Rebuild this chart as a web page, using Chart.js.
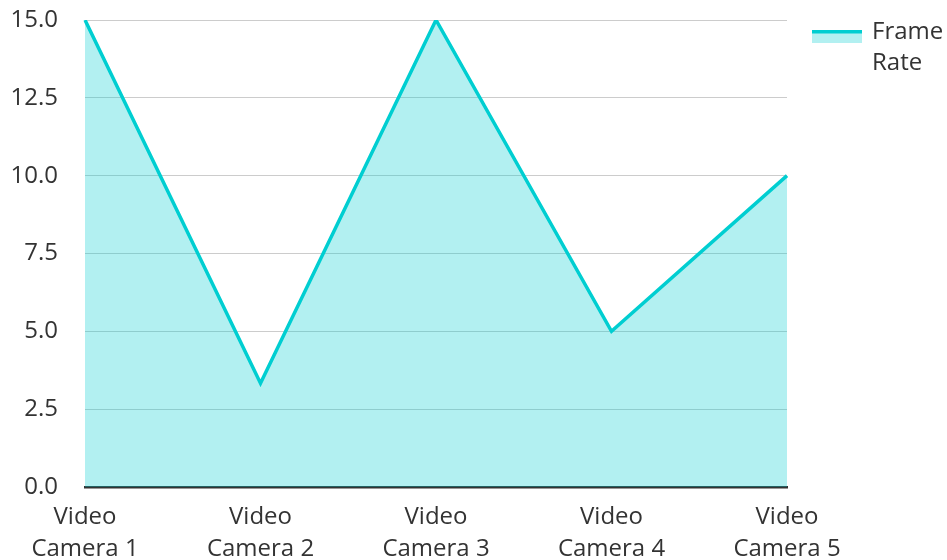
<!DOCTYPE html>
<html>
<head>
<meta charset="utf-8">
<script src="https://cdn.jsdelivr.net/npm/chart.js@4/dist/chart.umd.min.js"></script>
<style>
  html, body { margin: 0; padding: 0; background: #fff; }
  #wrap { width: 947px; height: 560px; position: relative; }
  canvas { display: block; }
</style>
</head>
<body>
<div id="wrap"><canvas id="graph" width="947" height="560"></canvas></div>
<script>
const cameras = [['Video', 'Camera 1'], ['Video', 'Camera 2'], ['Video', 'Camera 3'], ['Video', 'Camera 4'], ['Video', 'Camera 5']];
const frameRate = [15, 3.33, 15, 5, 10];
const seriesName = ['Frame', 'Rate'];

const lineColor = 'rgb(0, 206, 209)';
const fillColor = 'rgba(0, 206, 209, 0.3)';
const textColor = '#333';
const fontFamily = '"Open Sans", "Noto Sans", sans-serif';

// legend drawn by hand so the name can wrap on two lines
const sideLegend = {
  id: 'sideLegend',
  afterDraw(c) {
    const ctx = c.ctx;
    const x = 812, y = 30;
    ctx.save();
    ctx.fillStyle = fillColor;
    ctx.fillRect(x, y, 50, 13);
    ctx.fillStyle = lineColor;
    ctx.fillRect(x, y, 50, 3.5);
    ctx.fillStyle = textColor;
    ctx.font = '24px ' + fontFamily;
    ctx.textBaseline = 'middle';
    seriesName.forEach((t, i) => ctx.fillText(t, 872, 32 + i * 31));
    ctx.restore();
  }
};

const ctx = document.getElementById('graph').getContext('2d');
const chart = new Chart(ctx, {
  type: 'line',
  data: {
    labels: cameras,
    datasets: [{
      label: seriesName.join(' '),
      data: frameRate,
      borderColor: lineColor,
      backgroundColor: fillColor,
      borderWidth: 3.5,
      fill: 'origin',
      pointRadius: 0,
      tension: 0
    }]
  },
  options: {
    responsive: false,
    maintainAspectRatio: false,
    animation: false,
    devicePixelRatio: 1,
    layout: { padding: { left: 0, right: 160, top: 0, bottom: 0 } },
    plugins: {
      legend: { display: false },
      tooltip: { enabled: false }
    },
    scales: {
      x: {
        offset: false,
        grid: { display: false, drawTicks: false },
        border: { display: true, color: '#333', width: 2.5 },
        afterFit: s => { s.height = 73; },
        ticks: {
          color: textColor,
          font: { family: fontFamily, size: 24, lineHeight: 1.3 },
          maxRotation: 0,
          autoSkip: false,
          padding: 15
        }
      },
      y: {
        min: 0,
        max: 15,
        grid: { color: 'rgba(0,0,0,0.2)', drawTicks: false, lineWidth: 1 },
        border: { display: false },
        afterFit: s => { s.width = 85; s.paddingTop = 20; s.paddingBottom = 10; },
        ticks: {
          stepSize: 2.5,
          color: textColor,
          font: { family: fontFamily, size: 24 },
          padding: 27,
          callback: v => v.toFixed(1)
        }
      }
    }
  },
  plugins: [sideLegend]
});
</script>
</body>
</html>
